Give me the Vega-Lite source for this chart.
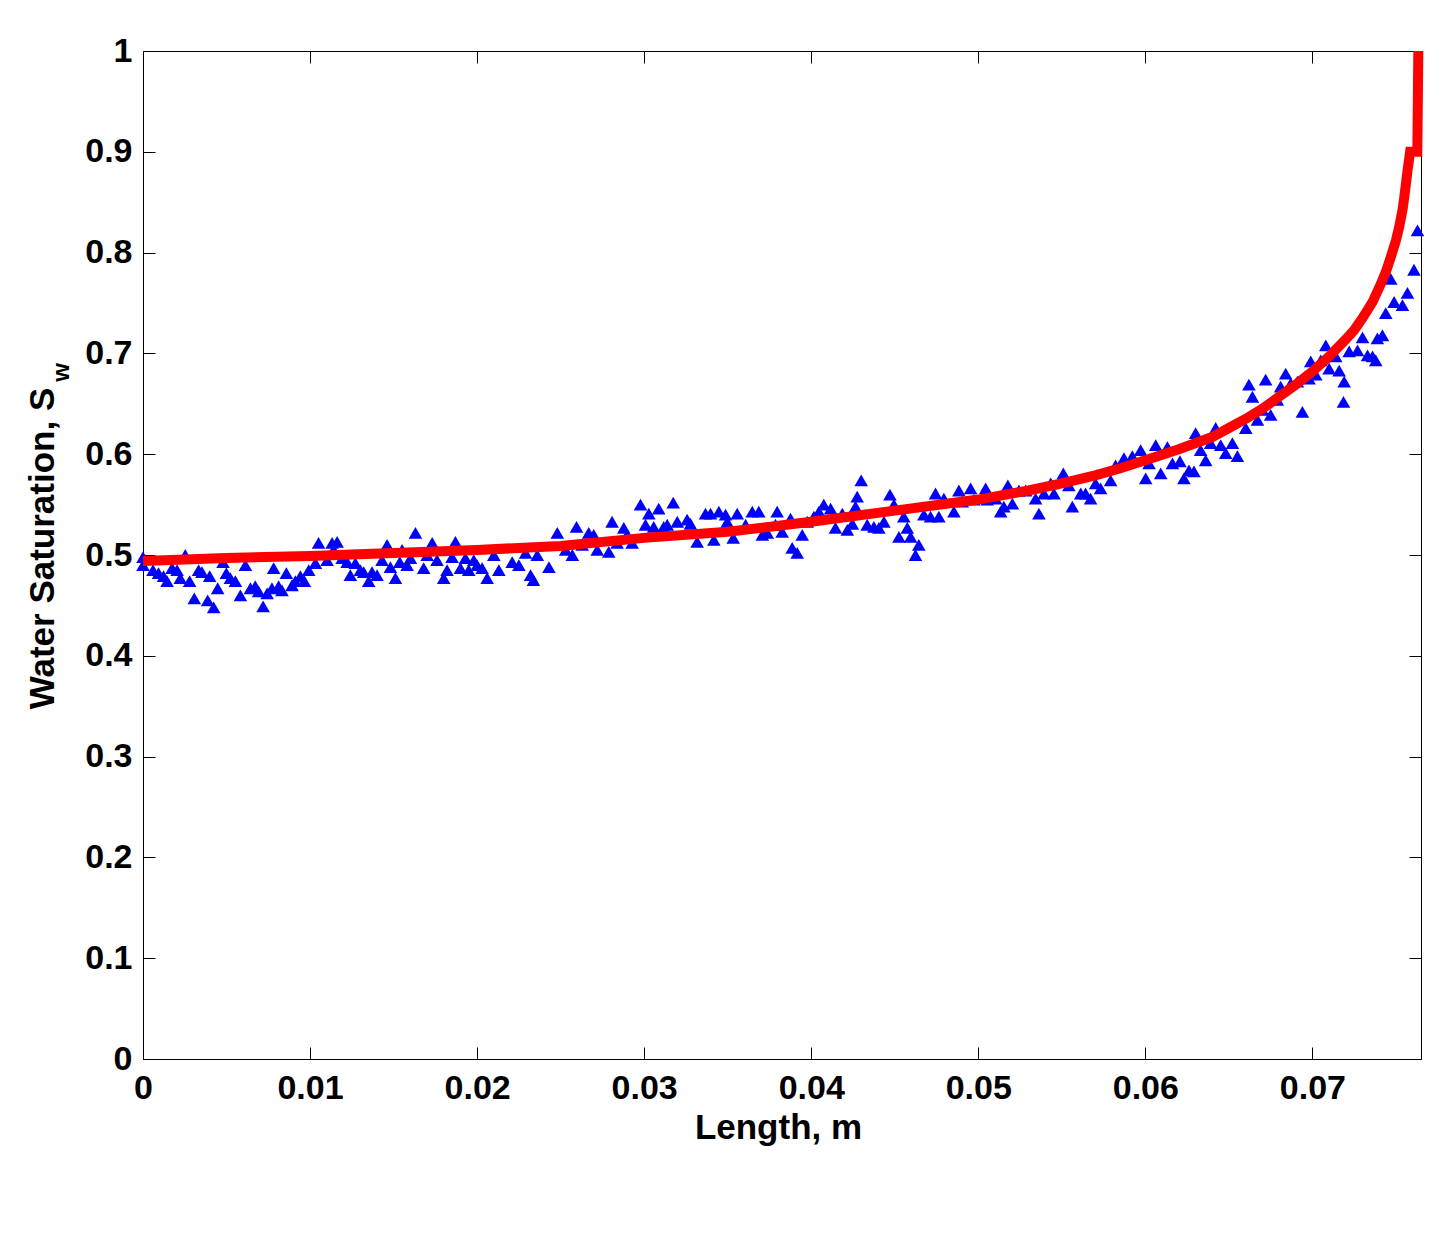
{
  "$schema": "https://vega.github.io/schema/vega-lite/v6.json",
  "width": 1278,
  "height": 1008,
  "autosize": {"type": "none"},
  "padding": {"left": 143, "top": 51, "right": 31, "bottom": 184},
  "background": "white",
  "config": {
    "view": {"stroke": null},
    "axis": {
      "labelFont": "Liberation Sans", "titleFont": "Liberation Sans",
      "labelFontWeight": "bold", "titleFontWeight": "bold",
      "labelColor": "black", "titleColor": "black",
      "domainColor": "black", "tickColor": "black", "domainWidth": 1, "tickWidth": 1,
      "grid": false, "labelFontSize": 34, "titleFontSize": 35
    }
  },
  "datasets": {
    "pts": [
      {"x":0.0,"sw":0.498},{"x":0.0,"sw":0.490},{"x":0.0006,"sw":0.485},{"x":0.00093,"sw":0.482},{"x":0.00123,"sw":0.479},{"x":0.00144,"sw":0.474},{"x":0.00174,"sw":0.487},{"x":0.00204,"sw":0.485},{"x":0.00253,"sw":0.500},{"x":0.00223,"sw":0.477},{"x":0.00279,"sw":0.474},{"x":0.00307,"sw":0.457},{"x":0.00333,"sw":0.485},{"x":0.00353,"sw":0.483},{"x":0.00387,"sw":0.455},{"x":0.00399,"sw":0.479},{"x":0.00423,"sw":0.448},{"x":0.00447,"sw":0.467},{"x":0.00479,"sw":0.493},{"x":0.00499,"sw":0.482},{"x":0.00523,"sw":0.477},{"x":0.00553,"sw":0.474},{"x":0.00583,"sw":0.460},{"x":0.00613,"sw":0.490},{"x":0.00643,"sw":0.467},{"x":0.00672,"sw":0.469},{"x":0.00692,"sw":0.464},{"x":0.00719,"sw":0.449},{"x":0.00743,"sw":0.462},{"x":0.00772,"sw":0.467},{"x":0.00782,"sw":0.487},{"x":0.00812,"sw":0.469},{"x":0.00832,"sw":0.465},{"x":0.00858,"sw":0.482},{"x":0.00892,"sw":0.470},{"x":0.00912,"sw":0.474},{"x":0.00942,"sw":0.479},{"x":0.00966,"sw":0.474},{"x":0.00992,"sw":0.485},
      {"x":0.01032,"sw":0.492},{"x":0.01051,"sw":0.512},{"x":0.01102,"sw":0.495},{"x":0.01132,"sw":0.512},{"x":0.01162,"sw":0.513},{"x":0.01141,"sw":0.505},{"x":0.01192,"sw":0.497},{"x":0.01222,"sw":0.493},{"x":0.01241,"sw":0.480},{"x":0.01271,"sw":0.492},{"x":0.01301,"sw":0.485},{"x":0.01321,"sw":0.483},{"x":0.01351,"sw":0.474},{"x":0.01371,"sw":0.483},{"x":0.01401,"sw":0.480},{"x":0.01431,"sw":0.495},{"x":0.01461,"sw":0.510},{"x":0.01481,"sw":0.488},{"x":0.01511,"sw":0.477},{"x":0.01537,"sw":0.493},{"x":0.01551,"sw":0.505},{"x":0.01581,"sw":0.490},{"x":0.01601,"sw":0.497},{"x":0.01631,"sw":0.522},{"x":0.0168,"sw":0.487},{"x":0.01701,"sw":0.500},{"x":0.01731,"sw":0.512},{"x":0.0176,"sw":0.495},{"x":0.018,"sw":0.477},{"x":0.0182,"sw":0.485},{"x":0.0185,"sw":0.498},{"x":0.0187,"sw":0.513},{"x":0.019,"sw":0.487},{"x":0.0193,"sw":0.497},{"x":0.0195,"sw":0.485},{"x":0.0198,"sw":0.495},{"x":0.02,"sw":0.490},
      {"x":0.0203,"sw":0.487},{"x":0.0206,"sw":0.477},{"x":0.021,"sw":0.500},{"x":0.0213,"sw":0.485},{"x":0.0221,"sw":0.493},{"x":0.0225,"sw":0.490},{"x":0.0229,"sw":0.502},{"x":0.0232,"sw":0.480},{"x":0.02337,"sw":0.475},{"x":0.0236,"sw":0.500},{"x":0.0243,"sw":0.488},{"x":0.0248,"sw":0.522},{"x":0.0253,"sw":0.505},{"x":0.0257,"sw":0.500},{"x":0.02595,"sw":0.528},{"x":0.02629,"sw":0.510},{"x":0.02668,"sw":0.522},{"x":0.02698,"sw":0.520},{"x":0.02719,"sw":0.505},{"x":0.02788,"sw":0.503},{"x":0.02808,"sw":0.533},{"x":0.02838,"sw":0.512},{"x":0.02878,"sw":0.527},{"x":0.02898,"sw":0.520},{"x":0.02928,"sw":0.512},{"x":0.02978,"sw":0.550},{"x":0.03028,"sw":0.541},{"x":0.03008,"sw":0.530},{"x":0.03057,"sw":0.528},{"x":0.03087,"sw":0.546},{"x":0.03117,"sw":0.528},{"x":0.03138,"sw":0.530},{"x":0.03174,"sw":0.552},{"x":0.03198,"sw":0.533},{"x":0.03257,"sw":0.535},{"x":0.03277,"sw":0.531},{"x":0.03317,"sw":0.513},{"x":0.03367,"sw":0.541},{"x":0.03397,"sw":0.541},{"x":0.03417,"sw":0.515},{"x":0.03447,"sw":0.543},{"x":0.03487,"sw":0.540},{"x":0.03497,"sw":0.533},{"x":0.03533,"sw":0.517},{"x":0.03557,"sw":0.541},{"x":0.03607,"sw":0.530},{"x":0.03647,"sw":0.543},{"x":0.03686,"sw":0.543},{"x":0.03707,"sw":0.520},{"x":0.03737,"sw":0.522},{"x":0.03796,"sw":0.543},{"x":0.03786,"sw":0.530},
      {"x":0.03826,"sw":0.523},{"x":0.03876,"sw":0.536},{"x":0.03886,"sw":0.507},{"x":0.03916,"sw":0.502},{"x":0.03946,"sw":0.520},{"x":0.03976,"sw":0.533},{"x":0.04016,"sw":0.538},{"x":0.04046,"sw":0.543},{"x":0.04075,"sw":0.550},{"x":0.04116,"sw":0.546},{"x":0.04145,"sw":0.527},{"x":0.04186,"sw":0.541},{"x":0.04216,"sw":0.525},{"x":0.04246,"sw":0.531},{"x":0.04265,"sw":0.548},{"x":0.04275,"sw":0.558},{"x":0.04299,"sw":0.574},{"x":0.04335,"sw":0.530},{"x":0.04375,"sw":0.528},{"x":0.04405,"sw":0.527},{"x":0.04435,"sw":0.533},{"x":0.04471,"sw":0.560},{"x":0.04495,"sw":0.550},{"x":0.04525,"sw":0.518},{"x":0.04554,"sw":0.538},{"x":0.04575,"sw":0.527},{"x":0.04595,"sw":0.518},{"x":0.04644,"sw":0.510},{"x":0.04624,"sw":0.500},{"x":0.04674,"sw":0.540},{"x":0.04714,"sw":0.538},{"x":0.04744,"sw":0.561},{"x":0.04764,"sw":0.538},{"x":0.04794,"sw":0.556},{"x":0.04854,"sw":0.543},{"x":0.04884,"sw":0.564},{"x":0.04904,"sw":0.553},{"x":0.04954,"sw":0.566},{"x":0.04974,"sw":0.555},{"x":0.05044,"sw":0.566},{"x":0.05054,"sw":0.555},{"x":0.05104,"sw":0.556},{"x":0.05134,"sw":0.543},{"x":0.05153,"sw":0.548},{"x":0.05177,"sw":0.569},{"x":0.05204,"sw":0.551},{"x":0.05243,"sw":0.564},{"x":0.05283,"sw":0.564},{"x":0.05343,"sw":0.556},{"x":0.05363,"sw":0.541},{"x":0.05393,"sw":0.561},{"x":0.05433,"sw":0.571},{"x":0.05453,"sw":0.561},{"x":0.05509,"sw":0.581},{"x":0.05542,"sw":0.569},{"x":0.05563,"sw":0.548},{"x":0.05613,"sw":0.561},{"x":0.05642,"sw":0.561},{"x":0.05672,"sw":0.556},{"x":0.05702,"sw":0.571},
      {"x":0.05732,"sw":0.566},{"x":0.05792,"sw":0.574},{"x":0.05822,"sw":0.589},{"x":0.05872,"sw":0.596},{"x":0.05922,"sw":0.598},{"x":0.05972,"sw":0.604},{"x":0.06002,"sw":0.576},{"x":0.06022,"sw":0.591},{"x":0.06062,"sw":0.609},{"x":0.06092,"sw":0.581},{"x":0.06132,"sw":0.607},{"x":0.06162,"sw":0.591},{"x":0.06207,"sw":0.593},{"x":0.06231,"sw":0.576},{"x":0.06261,"sw":0.584},{"x":0.06291,"sw":0.583},{"x":0.06301,"sw":0.621},{"x":0.06331,"sw":0.604},{"x":0.06361,"sw":0.594},{"x":0.06391,"sw":0.611},{"x":0.06421,"sw":0.626},{"x":0.06451,"sw":0.609},{"x":0.06481,"sw":0.601},{"x":0.06521,"sw":0.611},{"x":0.06551,"sw":0.598},{"x":0.06601,"sw":0.626},{"x":0.0662,"sw":0.669},{"x":0.06641,"sw":0.657},{"x":0.06671,"sw":0.634},{"x":0.06701,"sw":0.644},{"x":0.0672,"sw":0.674},{"x":0.0675,"sw":0.639},{"x":0.0679,"sw":0.654},{"x":0.0681,"sw":0.667},{"x":0.0684,"sw":0.680},{"x":0.0687,"sw":0.670},{"x":0.0691,"sw":0.672},{"x":0.0694,"sw":0.642},{"x":0.0698,"sw":0.675},{"x":0.0699,"sw":0.692},{"x":0.0702,"sw":0.679},{"x":0.0705,"sw":0.693},{"x":0.0708,"sw":0.708},{"x":0.071,"sw":0.685},{"x":0.0714,"sw":0.697},{"x":0.0716,"sw":0.683},{"x":0.0719,"sw":0.672},{"x":0.07186,"sw":0.652},{"x":0.0722,"sw":0.702},{"x":0.0727,"sw":0.703},{"x":0.073,"sw":0.716},{"x":0.0733,"sw":0.698},{"x":0.0736,"sw":0.697},{"x":0.07379,"sw":0.693},{"x":0.07389,"sw":0.715},{"x":0.07419,"sw":0.718},{"x":0.07439,"sw":0.740},{"x":0.07489,"sw":0.751},{"x":0.07539,"sw":0.748},{"x":0.07569,"sw":0.760},{"x":0.07469,"sw":0.774},{"x":0.07608,"sw":0.783},{"x":0.07629,"sw":0.822}
    ],
    "fit": [
      {"x":0.0,"sw":0.494},{"x":0.005,"sw":0.497},{"x":0.01,"sw":0.499},{"x":0.015,"sw":0.502},{"x":0.02,"sw":0.505},{"x":0.025,"sw":0.509},{"x":0.03,"sw":0.517},{"x":0.035,"sw":0.523},{"x":0.04,"sw":0.533},{"x":0.045,"sw":0.544},{"x":0.05,"sw":0.555},{"x":0.053,"sw":0.564},{"x":0.055,"sw":0.571},{"x":0.057,"sw":0.579},{"x":0.0585,"sw":0.586},{"x":0.06,"sw":0.594},{"x":0.062,"sw":0.605},{"x":0.064,"sw":0.617},{"x":0.065,"sw":0.626},{"x":0.066,"sw":0.635},{"x":0.067,"sw":0.645},{"x":0.068,"sw":0.657},{"x":0.069,"sw":0.669},{"x":0.07,"sw":0.682},{"x":0.071,"sw":0.697},{"x":0.072,"sw":0.714},{"x":0.0725,"sw":0.723},{"x":0.073,"sw":0.735},{"x":0.0736,"sw":0.751},{"x":0.0741,"sw":0.769},{"x":0.0744,"sw":0.781},{"x":0.0747,"sw":0.796},{"x":0.075,"sw":0.812},{"x":0.0752,"sw":0.826},{"x":0.0754,"sw":0.843},{"x":0.0755,"sw":0.855},{"x":0.0757,"sw":0.882},{"x":0.07585,"sw":0.900},{"x":0.07628,"sw":0.900},{"x":0.07634,"sw":1.0}
    ]
  },
  "layer": [
    {
      "data": {"name": "pts"},
      "mark": {"type": "point", "shape": "triangle-up", "filled": true, "color": "#0000ff", "size": 185, "opacity": 1},
      "encoding": {
        "x": {"field": "x", "type": "quantitative",
          "scale": {"domain": [0, 0.0765], "nice": false, "zero": false},
          "axis": {"orient": "bottom", "values": [0, 0.01, 0.02, 0.03, 0.04, 0.05, 0.06, 0.07], "format": "~g", "labelFlush": false,
            "tickSize": -12, "labelPadding": 24, "title": "Length, m", "titleX": 635, "titleY": 79, "titleBaseline": "alphabetic", "titleAlign": "center"}},
        "y": {"field": "sw", "type": "quantitative",
          "scale": {"domain": [0, 1], "nice": false, "zero": false},
          "axis": {"orient": "left", "values": [0, 0.1, 0.2, 0.3, 0.4, 0.5, 0.6, 0.7, 0.8, 0.9, 1], "format": "~g", "labelFlush": false,
            "tickSize": -12, "labelPadding": 23, "title": "Water Saturation, S", "titleAngle": 270, "titleX": -90, "titleY": 497, "titleBaseline": "alphabetic", "titleAlign": "center"}}
      }
    },
    {
      "data": {"name": "fit"},
      "mark": {"type": "line", "color": "#ff0000", "strokeWidth": 10},
      "encoding": {
        "x": {"field": "x", "type": "quantitative",
          "scale": {"domain": [0, 0.0765], "nice": false, "zero": false},
          "axis": {"orient": "top", "values": [0, 0.01, 0.02, 0.03, 0.04, 0.05, 0.06, 0.07], "labels": false, "tickSize": -12, "title": null}},
        "y": {"field": "sw", "type": "quantitative",
          "scale": {"domain": [0, 1], "nice": false, "zero": false},
          "axis": {"orient": "right", "values": [0, 0.1, 0.2, 0.3, 0.4, 0.5, 0.6, 0.7, 0.8, 0.9, 1], "labels": false, "tickSize": -12,
            "title": "w", "titleFontSize": 24, "titleAngle": 270, "titleX": -1353, "titleY": 321, "titleBaseline": "alphabetic", "titleAlign": "center"}}
      }
    }
  ],
  "resolve": {"axis": {"x": "independent", "y": "independent"}}
}
